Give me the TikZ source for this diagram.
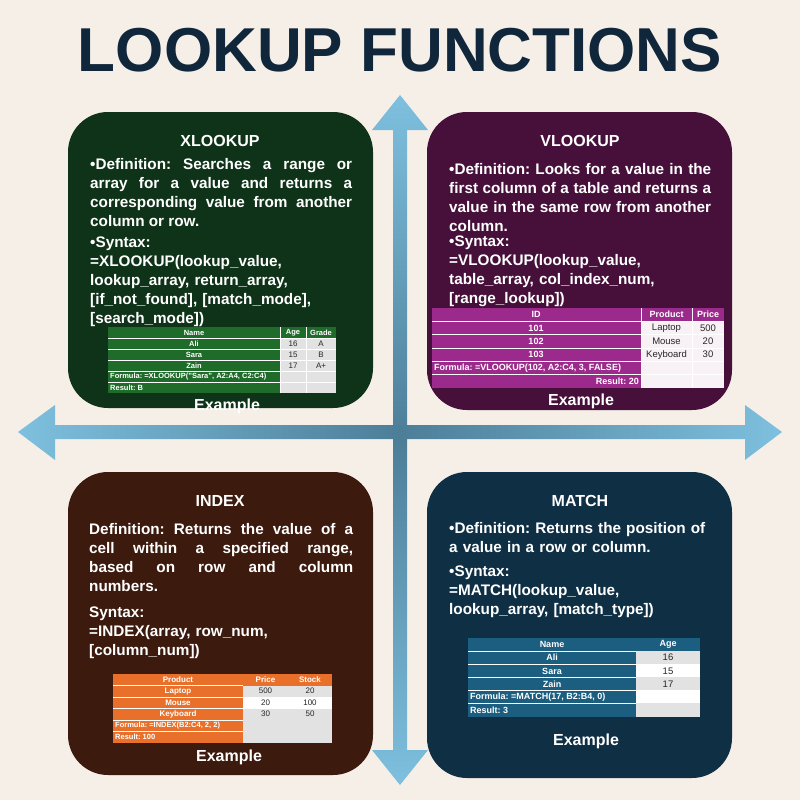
\documentclass[tikz,border=0pt]{standalone}
\usepackage{fontspec}
\setmainfont{Liberation Sans}
\usetikzlibrary{positioning}
\frenchspacing
\hyphenpenalty=10000
\exhyphenpenalty=10000
\definecolor{bgcream}{HTML}{F6EFE8}
\definecolor{titleblue}{HTML}{10263A}
\definecolor{arrowblue}{HTML}{7EC0DF}
\definecolor{arrowdark}{HTML}{4D7E98}
\definecolor{xgreen}{HTML}{0F3318}
\definecolor{xcell}{HTML}{1E6B2A}
\definecolor{vpurple}{HTML}{46103A}
\definecolor{vcell}{HTML}{9C2A8C}
\definecolor{ibrown}{HTML}{3C1A0E}
\definecolor{icell}{HTML}{E8702A}
\definecolor{mnavy}{HTML}{0F2F45}
\definecolor{mcell}{HTML}{1B5E80}
\definecolor{graycell}{HTML}{E2E2E2}
\tikzset{
  panel/.style={rounded corners=40pt},
  head/.style={text=white, font=\bfseries\fontsize{16}{18}\selectfont},
  body/.style={text=white, font=\bfseries\fontsize{15.3}{19}\selectfont, inner sep=0pt, anchor=north west},
  tcell/.style={text=white, font=\bfseries\fontsize{7.5}{8}\selectfont, inner sep=1pt},
  dcell/.style={text=black!85, font=\fontsize{8}{9}\selectfont, inner sep=1pt},
  example/.style={text=white, font=\bfseries\fontsize{16}{18}\selectfont},
  rowline/.style={white, line width=0.6pt}
}
\begin{document}
\begin{tikzpicture}[x=1pt,y=-1pt]
\useasboundingbox (0,0) rectangle (800,800);
\fill[bgcream] (0,0) rectangle (800,800);
\node[text=titleblue, font=\bfseries\fontsize{62}{64}\selectfont] (title) at (400,50) {LOOKUP FUNCTIONS};

% arrows
\shade[top color=arrowblue, bottom color=arrowblue, middle color=arrowdark]
  (400,95) -- (428,130) -- (407,130) -- (407,750) -- (428,750) -- (400,785)
  -- (372,750) -- (393,750) -- (393,130) -- (372,130) -- cycle;
\shade[left color=arrowblue, right color=arrowblue, middle color=arrowdark]
  (18,432) -- (55,405) -- (55,425) -- (745,425) -- (745,405) -- (782,432)
  -- (745,460) -- (745,439) -- (55,439) -- (55,460) -- cycle;

% panels
\fill[panel, xgreen] (68,112) rectangle (373,408);
\fill[panel, vpurple] (427,112) rectangle (732,410);
\fill[panel, ibrown] (68,472) rectangle (373,775);
\fill[panel, mnavy] (427,472) rectangle (732,778);

% XLOOKUP
\node[head] (xhead) at (220,141) {XLOOKUP};
\node[body, text width=262pt, align=justify] (xdef) at (90,158)
  {\textbullet Definition: Searches a range or array for a value and returns a corresponding value from another column or row.};
\node[body, text width=280pt, align=left] (xsyn) at (90,237)
  {\textbullet Syntax:\\=XLOOKUP(lookup\_value,\\lookup\_array, return\_array,\\{[if\_not\_found], [match\_mode],}\\{[search\_mode])}};
\fill[xcell] (108,327) rectangle (280,393);
\fill[xcell] (280,327) rectangle (336,338);
\fill[graycell] (280,338) rectangle (336,393);
\foreach \y in {338,349,360,371,382} \draw[rowline] (108,\y) -- (336,\y);
\draw[rowline] (280,327) -- (280,393);
\draw[white, line width=0.3pt] (306,327) -- (306,393);
\foreach \a/\b/\c [count=\i] in {Ali/16/A, Sara/15/B, Zain/17/A+} {
  \node[tcell] at (194,332.5+11*\i) {\a};
  \node[dcell] at (293,332.5+11*\i) {\b};
  \node[dcell] at (321,332.5+11*\i) {\c};
}
\node[tcell] (xname) at (194,332.5) {Name};
\node[tcell] (xage) at (293,332.5) {Age};
\node[tcell] (xgrade) at (321,332.5) {Grade};
\node[tcell, anchor=west] (xform) at (109,376.5) {Formula: =XLOOKUP("Sara", A2:A4, C2:C4)};
\node[tcell, anchor=west] (xres) at (109,387.5) {Result: B};
\node[example] (xex) at (227,406) {Example};

% VLOOKUP
\node[head] (vhead) at (580,141) {VLOOKUP};
\node[body, text width=262pt, align=justify] (vdef) at (449,163)
  {\textbullet Definition: Looks for a value in the first column of a table and returns a value in the same row from another column.};
\node[body, text width=280pt, align=left] (vsyn) at (449,236)
  {\textbullet Syntax:\\=VLOOKUP(lookup\_value,\\table\_array, col\_index\_num,\\{[range\_lookup])}};
\fill[vcell] (432,308) rectangle (641,388);
\fill[vcell] (641,308) rectangle (724,321);
\fill[graycell!70!vcell!15] (641,321) rectangle (724,388);
\foreach \y in {321,334.5,348,361,374.5} \draw[rowline] (432,\y) -- (724,\y);
\draw[rowline] (641,308) -- (641,388);
\draw[white, line width=0.3pt] (692,308) -- (692,388);
\foreach \a/\b/\c [count=\i] in {101/Laptop/500, 102/Mouse/20, 103/Keyboard/30} {
  \node[tcell, font=\bfseries\fontsize{9}{10}\selectfont] at (536,314.5+13.4*\i) {\a};
  \node[dcell, font=\fontsize{9.5}{10}\selectfont] at (666.5,314.5+13.4*\i) {\b};
  \node[dcell, font=\fontsize{9.5}{10}\selectfont] at (708,314.5+13.4*\i) {\c};
}
\node[tcell, font=\bfseries\fontsize{9}{10}\selectfont] (vid) at (536,314.5) {ID};
\node[tcell, font=\bfseries\fontsize{9}{10}\selectfont] (vprod) at (666.5,314.5) {Product};
\node[tcell, font=\bfseries\fontsize{9}{10}\selectfont] (vprice) at (708,314.5) {Price};
\node[tcell, font=\bfseries\fontsize{9}{10}\selectfont, anchor=west] (vform) at (433,368) {Formula: =VLOOKUP(102, A2:C4, 3, FALSE)};
\node[tcell, font=\bfseries\fontsize{9}{10}\selectfont, anchor=east] (vres) at (640,381.5) {Result: 20};
\node[example] (vex) at (581,401) {Example};

% INDEX
\node[head] (ihead) at (220,501) {INDEX};
\node[body, text width=264pt, align=justify] (idef) at (89,523)
  {Definition: Returns the value of a\linebreak cell within a specified range,\linebreak based on row and column\linebreak numbers.};
\node[body, text width=280pt, align=left] (isyn) at (89,607)
  {Syntax:\\=INDEX(array, row\_num,\\{[column\_num])}};
\fill[icell] (113,674) rectangle (243,743);
\fill[icell] (243,674) rectangle (332,685.5);
\fill[graycell] (243,685.5) rectangle (332,743);
\fill[white] (243,697) rectangle (332,708.5);
\foreach \y in {685.5,697,708.5,720,731.5} \draw[rowline] (113,\y) -- (243,\y);
\foreach \a/\b/\c [count=\i] in {Laptop/500/20, Mouse/20/100, Keyboard/30/50} {
  \node[tcell, font=\bfseries\fontsize{8}{9}\selectfont] at (178,679.7+11.5*\i) {\a};
  \node[dcell] at (265.5,679.7+11.5*\i) {\b};
  \node[dcell] at (310,679.7+11.5*\i) {\c};
}
\node[tcell, font=\bfseries\fontsize{8}{9}\selectfont] (iprod) at (178,679.7) {Product};
\node[tcell, font=\bfseries\fontsize{8}{9}\selectfont] (iprice) at (265.5,679.7) {Price};
\node[tcell, font=\bfseries\fontsize{8}{9}\selectfont] (istock) at (310,679.7) {Stock};
\node[tcell, anchor=west] (iform) at (114,725.7) {Formula: =INDEX(B2:C4, 2, 2)};
\node[tcell, anchor=west] (ires) at (114,737.2) {Result: 100};
\node[example] (iex) at (229,757) {Example};

% MATCH
\node[head] (mhead) at (580,501) {MATCH};
\node[body, text width=264pt, align=left] (mdef) at (449,522)
  {\textbullet Definition: Returns the position of a value in a row or column.};
\node[body, text width=280pt, align=left] (msyn) at (449,566)
  {\textbullet Syntax:\\=MATCH(lookup\_value,\\lookup\_array, [match\_type])};
\fill[mcell] (468,638) rectangle (636,717);
\fill[mcell] (636,638) rectangle (700,651);
\fill[graycell] (636,651) rectangle (700,717);
\fill[white] (636,664) rectangle (700,677);
\fill[white] (636,690) rectangle (700,703);
\foreach \y in {651,664,677,690,703} \draw[rowline] (468,\y) -- (636,\y);
\foreach \a/\b [count=\i] in {Ali/16, Sara/15, Zain/17} {
  \node[tcell, font=\bfseries\fontsize{9}{10}\selectfont] at (552,644.5+13.2*\i) {\a};
  \node[dcell, font=\fontsize{9.5}{10}\selectfont] at (668,644.5+13.2*\i) {\b};
}
\node[tcell, font=\bfseries\fontsize{9}{10}\selectfont] (mname) at (552,644.5) {Name};
\node[tcell, font=\bfseries\fontsize{9}{10}\selectfont] (mage) at (668,644.5) {Age};
\node[tcell, font=\bfseries\fontsize{9}{10}\selectfont, anchor=west] (mform) at (469,697) {Formula: =MATCH(17, B2:B4, 0)};
\node[tcell, font=\bfseries\fontsize{9}{10}\selectfont, anchor=west] (mres) at (469,710) {Result: 3};
\node[example] (mex) at (586,741) {Example};
\end{tikzpicture}
\end{document}
